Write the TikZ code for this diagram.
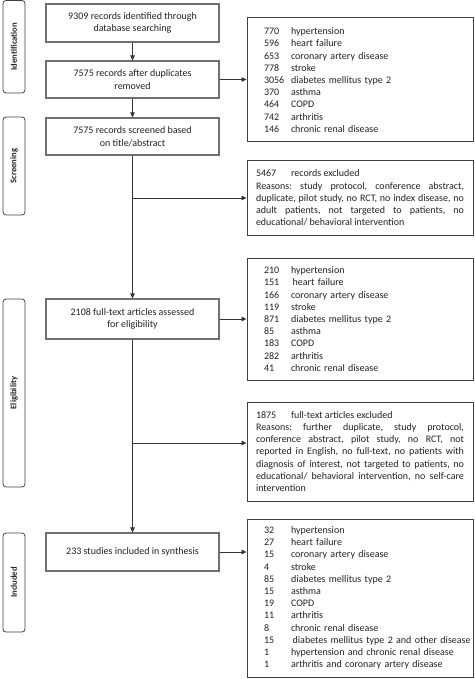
\documentclass[tikz,border=0pt]{standalone}
\usepackage{fontspec}
\setmainfont{Carlito}
\usetikzlibrary{arrows.meta}
\definecolor{txt}{HTML}{222222}
\definecolor{boxline}{HTML}{707070}
\definecolor{rline}{HTML}{404040}
\definecolor{conn}{HTML}{333333}
\newcommand{\li}[2]{\hspace*{8pt}\makebox[27pt][l]{#1}\mbox{#2}}
\frenchspacing
\begin{document}
\begin{tikzpicture}[x=1pt,y=-1pt,
  every node/.style={text=txt},
  mainbox/.style={draw=boxline, line width=1.2pt, fill=white, minimum width=173pt, align=center, inner sep=2pt, font=\fontsize{10}{12.5}\selectfont},
  rbox/.style={draw=rline, line width=1pt, fill=white, minimum width=226pt, text width=208pt, inner xsep=9pt, font=\fontsize{10}{12.2}\selectfont},
  listbox/.style={rbox, align=left},
  justbox/.style={rbox, align=justify},
  sidebox/.style={draw=rline, line width=0.8pt, rounded corners=3pt, rotate=90, minimum height=22pt, inner sep=0pt, font=\bfseries\fontsize{8.6}{9}\selectfont},
  arr/.style={draw=conn, line width=0.8pt, -{Triangle[length=5pt,width=4.5pt]}},
  ln/.style={draw=conn, line width=0.8pt}
]
\useasboundingbox (0,0) rectangle (474,679);

% side labels
\node[sidebox, minimum width=92.5pt] (s1) at (14,46.75) {Identification};
\node[sidebox, minimum width=98pt] (s2) at (14,166) {Screening};
\node[sidebox, minimum width=188pt] (s3) at (14,393) {Eligibility};
\node[sidebox, minimum width=99pt] (s4) at (14,582.5) {Included};

% main boxes
\node[mainbox, minimum height=38pt] (b1) at (132.5,23) {9309 records identified through\\database searching};
\node[mainbox, minimum height=37pt] (b2) at (132.5,79.5) {7575 records after duplicates\\removed};
\node[mainbox, minimum height=37pt] (b3) at (132.5,136.5) {7575 records screened based\\on title/abstract};
\node[mainbox, minimum height=40pt] (b4) at (132.5,319) {2108 full-text articles assessed\\for eligibility};
\node[mainbox, minimum height=38pt] (b5) at (132.5,552) {233 studies included in synthesis};

% right boxes
\node[listbox, minimum height=124pt] (r1) at (360,80) {\li{770}{hypertension}\\\li{596}{heart failure}\\\li{653}{coronary artery disease}\\\li{778}{stroke}\\\li{3056}{diabetes mellitus type 2}\\\li{370}{asthma}\\\li{464}{COPD}\\\li{742}{arthritis}\\\li{146}{chronic renal disease}};

\node[justbox, minimum height=74pt] (r2) at (360,198) {\hyphenpenalty=10000\exhyphenpenalty=10000\makebox[35pt][l]{5467}records excluded\\Reasons: study protocol, conference abstract,\linebreak duplicate, pilot study, no RCT, no index disease, no\linebreak adult patients, not targeted to patients, no\linebreak educational/ behavioral intervention};

\node[listbox, minimum height=122pt] (r3) at (360,319) {\li{210}{hypertension}\\\li{151}{\,heart failure}\\\li{166}{coronary artery disease}\\\li{119}{stroke}\\\li{871}{diabetes mellitus type 2}\\\li{85}{asthma}\\\li{183}{COPD}\\\li{282}{arthritis}\\\li{41}{chronic renal disease}};

\node[justbox, minimum height=99pt] (r4) at (360,451.5) {\hyphenpenalty=10000\exhyphenpenalty=10000\makebox[35pt][l]{1875}full-text articles excluded\\Reasons: further duplicate, study protocol,\linebreak conference abstract, pilot study, no RCT, not\linebreak reported in English, no full-text, no patients with\linebreak diagnosis of interest, not targeted to patients, no\linebreak educational/ behavioral intervention, no self-care\linebreak intervention};

\node[listbox, minimum height=158pt] (r5) at (360,598) {\li{32}{hypertension}\\\li{27}{heart failure}\\\li{15}{coronary artery disease}\\\li{4}{stroke}\\\li{85}{diabetes mellitus type 2}\\\li{15}{asthma}\\\li{19}{COPD}\\\li{11}{arthritis}\\\li{8}{chronic renal disease}\\\li{15}{\,diabetes mellitus type 2 and other disease}\\\li{1}{hypertension and chronic renal disease}\\\li{1}{arthritis and coronary artery disease}};

% connectors
\coordinate (j1) at (132.5,198);
\coordinate (j2) at (132.5,443);
\draw[arr] (b1) -- (b2);
\draw[arr] (b2) -- (b3);
\draw[arr] (b3) -- (b4);
\draw[arr] (b4) -- (b5);
\draw[arr] (b2.east) -- (b2.east -| r1.west);
\draw[arr] (j1) -- (j1 -| r2.west);
\draw[arr] (b4.east) -- (b4.east -| r3.west);
\draw[arr] (j2) -- (j2 -| r4.west);
\draw[arr] (b5.east) -- (b5.east -| r5.west);
\end{tikzpicture}
\end{document}
